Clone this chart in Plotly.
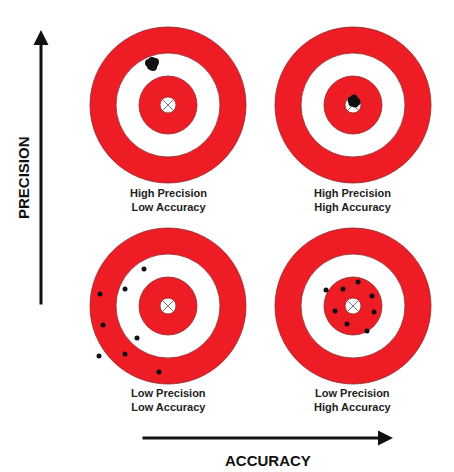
import plotly.graph_objects as go

W, H = 454, 472
centers_x = [160, 345, 160, 345]
centers_y = [97, 97, 298, 298]
labels = ["High Precision<br>Low Accuracy", "High Precision<br>High Accuracy",
          "Low Precision<br>Low Accuracy", "Low Precision<br>High Accuracy"]
label_y = [192, 192, 392, 392]
ring_radii = [78, 52, 29, 8]
ring_colors = ["#ee1c25", "white", "#ee1c25", "white"]

shots_tl_x = [141, 144, 146, 143, 147, 145]
shots_tl_y = [55, 53, 56, 58, 54, 59]
shots_tr_x = [343, 346, 348, 344, 347, 349]
shots_tr_y = [92, 90, 93, 95, 96, 94]
shots_bl_x = [136, 117, 92, 95, 129, 91, 117, 151]
shots_bl_y = [261, 281, 286, 317, 330, 348, 346, 364]
shots_br_x = [318, 335, 350, 364, 366, 359, 339, 327]
shots_br_y = [282, 281, 274, 288, 304, 323, 316, 303]

fig = go.Figure()
shapes = []
for cx, cy in zip(centers_x, centers_y):
    for r, c in zip(ring_radii, ring_colors):
        shapes.append(dict(type="circle", x0=cx - r, x1=cx + r, y0=cy - r, y1=cy + r,
                           fillcolor=c, line=dict(color="#8a2a2a", width=0.8), layer="below"))
    d = 5.5
    shapes.append(dict(type="line", x0=cx - d, x1=cx + d, y0=cy - d, y1=cy + d,
                       line=dict(color="#777", width=1), layer="below"))
    shapes.append(dict(type="line", x0=cx - d, x1=cx + d, y0=cy + d, y1=cy - d,
                       line=dict(color="#777", width=1), layer="below"))

for xs, ys, s in [(shots_tl_x, shots_tl_y, 8), (shots_tr_x, shots_tr_y, 7),
                  (shots_bl_x, shots_bl_y, 5), (shots_br_x, shots_br_y, 5)]:
    fig.add_trace(go.Scatter(x=xs, y=ys, mode="markers",
                             marker=dict(color="#111", size=s), hoverinfo="skip"))

ann = []
for cx, ly, t in zip(centers_x, label_y, labels):
    ann.append(dict(x=cx, y=ly, text="<b>" + t + "</b>", showarrow=False,
                    font=dict(family="Liberation Sans", size=11, color="#222")))
ann.append(dict(x=33, y=22, ax=33, ay=298, xref="x", yref="y", axref="x", ayref="y",
                showarrow=True, arrowhead=2, arrowsize=1, arrowwidth=3, arrowcolor="#111", text=""))
ann.append(dict(x=385, y=430, ax=133, ay=430, xref="x", yref="y", axref="x", ayref="y",
                showarrow=True, arrowhead=2, arrowsize=1, arrowwidth=3, arrowcolor="#111", text=""))
ann.append(dict(x=15, y=170, text="<b>PRECISION</b>", textangle=-90, showarrow=False,
                font=dict(family="Liberation Sans", size=15, color="#111")))
ann.append(dict(x=260, y=452, text="<b>ACCURACY</b>", showarrow=False,
                font=dict(family="Liberation Sans", size=15, color="#111")))

fig.update_layout(width=W, height=H, margin=dict(l=0, r=0, t=0, b=0),
                  paper_bgcolor="white", plot_bgcolor="white", showlegend=False,
                  shapes=shapes, annotations=ann,
                  xaxis=dict(range=[0, W], visible=False, fixedrange=True),
                  yaxis=dict(range=[H, 0], visible=False, fixedrange=True))
fig.write_html("out.html")
